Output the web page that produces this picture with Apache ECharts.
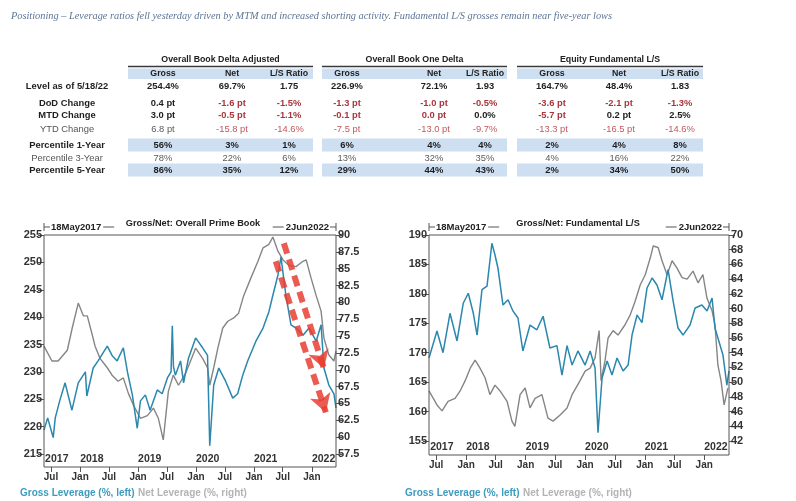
<!DOCTYPE html>
<html>
<head>
<meta charset="utf-8">
<script src="https://cdn.jsdelivr.net/npm/echarts@6.0.0/dist/echarts.min.js"></script>
<style>
html, body { margin: 0; padding: 0; background: #fff; }
#main { width: 796px; height: 501px; }
</style>
</head>
<body>
<div id="main"></div>
<script>
// ---- table data ----
var headline = 'Positioning \u2013 Leverage ratios fell yesterday driven by MTM and increased shorting activity. Fundamental L/S grosses remain near five-year lows';
var groupNames = ['Overall Book Delta Adjusted', 'Overall Book One Delta', 'Equity Fundamental L/S'];
var colNames = ['Gross', 'Net', 'L/S Ratio'];
var rowNames = ['Level as of 5/18/22', 'DoD Change', 'MTD Change', 'YTD Change', 'Percentile 1-Year', 'Percentile 3-Year', 'Percentile 5-Year'];
var levelRow = ['254.4%', '69.7%', '1.75', '226.9%', '72.1%', '1.93', '164.7%', '48.4%', '1.83'];
var dodRow = ['0.4 pt', '-1.6 pt', '-1.5%', '-1.3 pt', '-1.0 pt', '-0.5%', '-3.6 pt', '-2.1 pt', '-1.3%'];
var mtdRow = ['3.0 pt', '-0.5 pt', '-1.1%', '-0.1 pt', '0.0 pt', '0.0%', '-5.7 pt', '0.2 pt', '2.5%'];
var ytdRow = ['6.8 pt', '-15.8 pt', '-14.6%', '-7.5 pt', '-13.0 pt', '-9.7%', '-13.3 pt', '-16.5 pt', '-14.6%'];
var pct1Row = ['56%', '3%', '1%', '6%', '4%', '4%', '2%', '4%', '8%'];
var pct3Row = ['78%', '22%', '6%', '13%', '32%', '35%', '4%', '16%', '22%'];
var pct5Row = ['86%', '35%', '12%', '29%', '44%', '43%', '2%', '34%', '50%'];
// 1 = shown in red
var redFlags = ['000000000', '011111111', '011110100', '011111111', '000000000', '000000000', '000000000'];

// ---- chart data ----
var chartTitles = ['Gross/Net: Overall Prime Book', 'Gross/Net: Fundamental L/S'];
var seriesNames = ['Gross Leverage (%, left)', 'Net Leverage (%, right)'];
var startLabel = '18May2017', endLabel = '2Jun2022';
var startDate = '2017-05-18', endDate = '2022-06-02';

var leftGrossDates = ['2017-05-18','2017-06-10','2017-07-15','2017-07-28','2017-08-25','2017-09-28','2017-11-10','2017-12-20','2018-02-03','2018-02-12','2018-03-24','2018-04-24','2018-06-21','2018-07-21','2018-08-22','2018-09-30','2018-10-26','2018-11-26','2018-12-27','2019-01-16','2019-02-16','2019-03-18','2019-05-02','2019-06-02','2019-07-05','2019-07-28','2019-08-05','2019-08-12','2019-08-24','2019-09-26','2019-10-15','2019-11-15','2019-12-30','2020-02-12','2020-03-14','2020-03-28','2020-04-22','2020-05-24','2020-07-06','2020-08-20','2020-09-20','2020-10-22','2020-11-22','2021-01-13','2021-02-27','2021-04-05','2021-04-30','2021-06-01','2021-06-20','2021-07-21','2021-08-22','2021-09-23','2021-11-06','2021-12-14','2022-01-28','2022-02-28','2022-03-18','2022-04-18','2022-05-20','2022-06-02'];
var leftGrossVals = [219.4,221.6,218,221.6,224.7,228,223,228,230,225.6,230.7,232,234.7,233,232,234.4,230,225.8,219.7,224.7,225.8,223,226.7,226,228.9,230,238.4,231,229.4,232,228,232.5,236.2,234.4,233,216.5,227.6,230.7,228.3,225.2,226,229.4,232,235.6,238,241,244,247.7,251,244,238.6,238,236.7,238,235.6,238.6,230.7,227.6,226,223.4];

var leftNetDates = ['2017-05-18','2017-07-07','2017-08-15','2017-10-12','2017-11-12','2017-12-20','2018-01-21','2018-02-15','2018-03-18','2018-04-05','2018-05-06','2018-06-21','2018-07-21','2018-08-28','2018-09-30','2018-11-01','2018-12-02','2019-01-16','2019-03-01','2019-04-08','2019-05-09','2019-06-09','2019-07-11','2019-08-11','2019-09-13','2019-10-28','2019-12-30','2020-02-12','2020-03-14','2020-03-28','2020-04-22','2020-05-18','2020-06-18','2020-07-20','2020-08-26','2020-09-26','2020-10-28','2020-12-12','2021-01-26','2021-02-27','2021-04-05','2021-04-30','2021-06-01','2021-07-03','2021-08-09','2021-09-23','2021-11-06','2021-11-26','2021-12-27','2022-01-28','2022-02-28','2022-03-18','2022-04-18','2022-05-20','2022-06-02'];
var leftNetVals = [73.5,71.3,71.3,72.9,76.2,79.9,78,78,75.2,73.5,71.7,70.3,69.2,68.3,68.8,66.5,64.8,62.8,63.2,64.3,62.8,59.6,66.8,69.2,67.7,69.5,73.2,71.7,70.3,67.7,70.3,73.2,76.2,77.2,77.7,78.4,81,83.6,86.1,88.1,88.6,89.7,87.6,86.3,85.5,85.3,86.1,86.3,83.6,81,78.7,74.7,72.2,71.3,72.8];

var rightGrossDates = ['2017-05-18','2017-07-06','2017-08-12','2017-09-24','2017-11-06','2017-12-14','2018-01-14','2018-02-14','2018-03-09','2018-04-08','2018-05-09','2018-06-08','2018-06-27','2018-07-15','2018-08-15','2018-09-15','2018-10-15','2018-11-15','2018-12-15','2019-01-28','2019-03-11','2019-04-18','2019-05-30','2019-07-12','2019-08-12','2019-09-12','2019-10-13','2019-11-18','2020-01-01','2020-02-01','2020-03-02','2020-03-20','2020-04-14','2020-05-15','2020-06-14','2020-07-15','2020-08-21','2020-09-21','2020-10-15','2020-11-15','2020-12-15','2021-01-15','2021-02-15','2021-03-17','2021-04-17','2021-05-24','2021-06-24','2021-07-24','2021-08-24','2021-10-06','2021-11-06','2021-12-18','2022-01-18','2022-02-18','2022-03-08','2022-03-26','2022-04-26','2022-05-20','2022-06-02'];
var rightGrossVals = [169.1,173.7,170,176.7,172,178.4,180.1,176.7,173,180.7,181.3,188.6,186.6,184.4,178.1,179,177.1,175.9,170.3,174.7,173.9,176.2,170.8,171.2,166.2,171.2,167.9,170.3,167.9,170.3,167.4,156.4,165.7,168.6,166.2,169.1,166.9,167.9,173,176.4,175.1,181,182.7,181.5,179,184.1,178.8,174.2,173,174.7,177.6,178.1,177.1,179.3,174.2,172.5,169.6,164.5,166.9];

var rightNetDates = ['2017-05-18','2017-07-06','2017-08-06','2017-09-12','2017-10-25','2017-11-25','2017-12-26','2018-01-26','2018-02-25','2018-03-27','2018-04-27','2018-05-27','2018-06-27','2018-07-28','2018-09-09','2018-10-09','2018-10-27','2018-11-28','2018-12-29','2019-01-28','2019-02-28','2019-04-11','2019-05-18','2019-06-18','2019-07-30','2019-09-12','2019-10-13','2019-11-13','2019-12-01','2020-01-01','2020-02-01','2020-03-02','2020-03-27','2020-04-08','2020-05-02','2020-05-21','2020-06-21','2020-07-21','2020-09-02','2020-10-03','2020-11-03','2020-12-04','2021-01-04','2021-02-04','2021-02-22','2021-03-24','2021-04-17','2021-05-18','2021-06-18','2021-07-18','2021-08-18','2021-09-18','2021-10-24','2021-11-24','2021-12-24','2022-01-18','2022-02-18','2022-03-08','2022-03-26','2022-04-14','2022-05-03','2022-05-26'];
var rightNetVals = [48.8,46.9,46.1,47.4,47.8,48.8,50.2,51.9,53,51.9,50.6,48.3,49.6,48.8,47.4,44.7,44,48.3,49.2,46.5,47.8,48.3,45.1,44.7,45.5,46.5,48.3,49.5,50.2,51.5,51.9,53.3,57,50.2,52.9,56,57,56.4,57.8,59.1,61,63.2,64.6,66.9,68.5,68.3,66.5,64.6,66.5,65.5,64.2,64,65.1,63.5,64.6,61.4,59.7,57.8,52.3,50.2,46.9,49.2];

// red dashed arrows on the left chart: [from, to] as [date, gross value]
var leftArrows = [
    [['2021-07-08', 253.5], ['2022-03-18', 230.6]],
    [['2021-05-18', 250.2], ['2022-03-30', 222.6]]
];

var monthTicks = ['2017-07-01','2018-01-01','2018-07-01','2019-01-01','2019-07-01','2020-01-01','2020-07-01','2021-01-01','2021-07-01','2022-01-01'];
var monthTickLabels = ['Jul','Jan','Jul','Jan','Jul','Jan','Jul','Jan','Jul','Jan'];
var yearTicks = ['2017-05-25','2018-01-01','2019-01-01','2020-01-01','2021-01-01','2022-01-01'];
var yearTickLabels = ['2017','2018','2019','2020','2021','2022'];

// ---- helpers ----
var SANS = '"Liberation Sans", Arial, sans-serif';
var TEAL = '#2a87ad', GREY = '#858585', FRAME = '#555';
var ts = function (d) { return echarts.number.parseDate(d).getTime(); };
var pairs = function (dates, vals) { return dates.map(function (d, i) { return [ts(d), vals[i]]; }); };
var measureCtx = document.createElement('canvas').getContext('2d');
function measure(s, font) { measureCtx.font = font; return measureCtx.measureText(s).width; }

function txt(x, y, s, font, color, align, more) {
    var el = { type: 'text', x: x, y: y, silent: true, z: 20,
        style: { text: s, font: font, fill: color, align: align || 'center', verticalAlign: 'middle',
                 textAlign: align || 'center', textVerticalAlign: 'middle' } };
    if (more) { for (var k in more) el[k] = more[k]; }
    return el;
}
function seg(x1, y1, x2, y2, color, w) {
    return { type: 'line', silent: true, z: 20, shape: { x1: x1, y1: y1, x2: x2, y2: y2 }, style: { stroke: color, lineWidth: w || 1 } };
}
function rect(x, y, w, h, fill, stroke) {
    return { type: 'rect', silent: true, z: stroke ? 20 : 1, shape: { x: x, y: y, width: w, height: h },
        style: { fill: fill || 'none', stroke: stroke || 'none', lineWidth: 1 } };
}

var graphics = [];

// headline (italic serif, squeezed to the original width)
var hlFont = 'italic 10.5px "Liberation Serif", serif';
graphics.push(txt(11, 16, headline, hlFont, '#5d7595', 'left', { scaleX: 601 / measure(headline, hlFont) }));

// ---- table ----
var colX = [163, 232, 289, 347, 434, 485, 552, 619, 680];
var groupSpan = [[128, 313], [322, 507], [517, 703]];
var rowY = [86, 103, 115, 129, 145, 158, 170];
var rowBold = [true, true, true, false, true, false, true];
var rows = [levelRow, dodRow, mtdRow, ytdRow, pct1Row, pct3Row, pct5Row];
var hdrFont = 'bold 8.8px ' + SANS;
var cellBold = 'bold 9.4px ' + SANS, cellNorm = '9.4px ' + SANS;

groupSpan.forEach(function (g, gi) {
    graphics.push(rect(g[0], 68.5, g[1] - g[0], 10.5, '#cddff0'));
    graphics.push(rect(g[0], 138.5, g[1] - g[0], 13, '#cddff0'));
    graphics.push(rect(g[0], 163.5, g[1] - g[0], 13, '#cddff0'));
    graphics.push(seg(g[0], 66.5, g[1], 66.5, '#3a3a3a', 1.6));
    graphics.push(txt((g[0] + g[1]) / 2, 60, groupNames[gi], hdrFont, '#222'));
    colNames.forEach(function (c, ci) {
        graphics.push(txt(colX[gi * 3 + ci], 74, c, hdrFont, '#222'));
    });
});
rows.forEach(function (r, ri) {
    var bold = rowBold[ri];
    graphics.push(txt(67, rowY[ri], rowNames[ri], bold ? cellBold : cellNorm, bold ? '#1e1e1e' : '#555'));
    r.forEach(function (v, ci) {
        var red = redFlags[ri].charAt(ci) === '1';
        var color = red ? (bold ? '#a8363d' : '#c2585c') : (bold ? '#1e1e1e' : '#5a5a5a');
        graphics.push(txt(colX[ci], rowY[ri], v, bold ? cellBold : cellNorm, color));
    });
});

// ---- chart frames / titles / legends ----
var frames = [
    { left: 44, top: 235, width: 292, plotH: 219, boxH: 232, titleX: 193, legX: [20, 138] },
    { left: 429, top: 235, width: 300, plotH: 206, boxH: 220, titleX: 578, legX: [405, 523] }
];
var smallBold = 'bold 9.5px ' + SANS;
frames.forEach(function (f, i) {
    var r = f.left + f.width;
    graphics.push(rect(f.left, f.top, f.width, f.boxH, null, FRAME));
    graphics.push(txt(f.titleX, 223, chartTitles[i], 'bold 9.2px ' + SANS, '#222'));
    // start / end markers above the plot
    var sw = measure(startLabel, smallBold), ew = measure(endLabel, smallBold);
    graphics.push(seg(f.left, 223, f.left, 231, '#555'));
    graphics.push(seg(f.left, 227, f.left + 6, 227, '#555'));
    graphics.push(txt(f.left + 7, 227, startLabel, smallBold, '#222', 'left'));
    graphics.push(seg(f.left + 9 + sw, 227, f.left + 20 + sw, 227, '#555'));
    graphics.push(seg(r, 223, r, 231, '#555'));
    graphics.push(seg(r - 6, 227, r, 227, '#555'));
    graphics.push(txt(r - 7, 227, endLabel, smallBold, '#222', 'right'));
    graphics.push(seg(r - 20 - ew, 227, r - 9 - ew, 227, '#555'));
    // legend
    graphics.push(txt(f.legX[0], 493, seriesNames[0], 'bold 10px ' + SANS, '#3c9cbd', 'left'));
    graphics.push(txt(f.legX[1], 493, seriesNames[1], 'bold 10px ' + SANS, '#b3b3b3', 'left'));
});

// ---- axes (x is a value axis of timestamps so ticks can sit on chosen dates) ----
var monthTs = monthTicks.map(ts), yearTs = yearTicks.map(ts);
var axisFont = { fontFamily: SANS, fontWeight: 'bold', color: '#333' };

function monthAxis(gi, off) {
    return {
        gridIndex: gi, type: 'value', min: ts(startDate), max: ts(endDate), position: 'bottom', offset: off,
        axisLine: { show: false },
        axisTick: { show: true, length: 5, customValues: monthTs, lineStyle: { color: FRAME } },
        axisLabel: Object.assign({ customValues: monthTs, fontSize: 10, margin: 5, showMinLabel: true, showMaxLabel: true,
            formatter: function (v) { return monthTickLabels[monthTs.indexOf(v)] || ''; } }, axisFont),
        splitLine: { show: false }
    };
}
function yearAxis(gi, off) {
    return {
        gridIndex: gi, type: 'value', min: ts(startDate), max: ts(endDate), position: 'bottom', offset: off,
        axisLine: { show: false }, axisTick: { show: false },
        axisLabel: Object.assign({ inside: true, customValues: yearTs, fontSize: 10.5, margin: 2, align: 'left',
            showMinLabel: true, showMaxLabel: true,
            formatter: function (v) { return yearTickLabels[yearTs.indexOf(v)] || ''; } }, axisFont),
        splitLine: { show: false }
    };
}
function valAxis(gi, pos, min, max, step) {
    return {
        gridIndex: gi, type: 'value', position: pos, min: min, max: max, interval: step,
        axisLine: { show: false },
        axisTick: { show: true, length: 6, lineStyle: { color: FRAME } },
        axisLabel: Object.assign({ fontSize: 11, margin: 2 }, axisFont),
        splitLine: { show: false }
    };
}
function lineSeries(name, xi, yi, data, color, w, z) {
    return { name: name, type: 'line', xAxisIndex: xi, yAxisIndex: yi, data: data, showSymbol: false,
        symbol: 'none', z: z, lineStyle: { color: color, width: w }, itemStyle: { color: color } };
}

var leftGross = lineSeries(seriesNames[0], 0, 0, pairs(leftGrossDates, leftGrossVals), TEAL, 1.5, 4);
leftGross.markLine = {
    silent: true, symbol: ['none', 'arrow'], symbolSize: [16, 18], animation: false,
    label: { show: false },
    lineStyle: { color: 'rgba(232,62,50,0.85)', width: 6, type: [11, 6] },
    data: leftArrows.map(function (a) {
        return [{ coord: [ts(a[0][0]), a[0][1]] }, { coord: [ts(a[1][0]), a[1][1]] }];
    })
};

var option = {
    animation: false,
    backgroundColor: '#fff',
    grid: frames.map(function (f) { return { left: f.left, top: f.top, width: f.width, height: f.plotH }; }),
    xAxis: [monthAxis(0, 13), yearAxis(0, 13), monthAxis(1, 14), yearAxis(1, 14)],
    yAxis: [valAxis(0, 'left', 215, 255, 5), valAxis(0, 'right', 57.5, 90, 2.5),
            valAxis(1, 'left', 155, 190, 5), valAxis(1, 'right', 42, 70, 2)],
    series: [
        lineSeries(seriesNames[1], 0, 1, pairs(leftNetDates, leftNetVals), GREY, 1.4, 3),
        leftGross,
        lineSeries(seriesNames[1], 2, 3, pairs(rightNetDates, rightNetVals), GREY, 1.4, 3),
        lineSeries(seriesNames[0], 2, 2, pairs(rightGrossDates, rightGrossVals), TEAL, 1.5, 4)
    ],
    graphic: { elements: graphics }
};

var myChart = echarts.init(document.getElementById('main'));
myChart.setOption(option);
</script>
</body>
</html>
